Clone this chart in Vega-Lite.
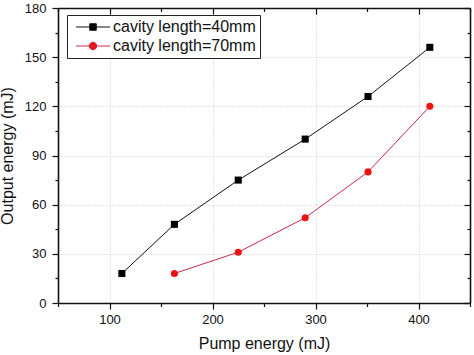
{
  "$schema": "https://vega.github.io/schema/vega-lite/v6.json",
  "width": 412,
  "height": 295,
  "autosize": {"type": "none"},
  "padding": {"left": 58, "top": 8, "right": 4, "bottom": 52},
  "background": "white",
  "config": {
    "font": "Liberation Sans",
    "view": {"stroke": null},
    "axis": {
      "labelFont": "Liberation Sans",
      "titleFont": "Liberation Sans",
      "labelColor": "#111",
      "titleColor": "#111",
      "labelFontSize": 13,
      "titleFontSize": 16,
      "titleFontWeight": "normal",
      "domainColor": "#111",
      "domainWidth": 1.6,
      "tickColor": "#111",
      "tickWidth": 1.2
    }
  },
  "data": {
    "values": [
      {"pump": 112, "out": 18, "series": "cavity length=40mm"},
      {"pump": 163, "out": 48, "series": "cavity length=40mm"},
      {"pump": 225, "out": 75, "series": "cavity length=40mm"},
      {"pump": 290, "out": 100, "series": "cavity length=40mm"},
      {"pump": 351, "out": 126, "series": "cavity length=40mm"},
      {"pump": 411, "out": 156, "series": "cavity length=40mm"},
      {"pump": 163, "out": 18, "series": "cavity length=70mm"},
      {"pump": 225, "out": 31, "series": "cavity length=70mm"},
      {"pump": 290, "out": 52, "series": "cavity length=70mm"},
      {"pump": 351, "out": 80, "series": "cavity length=70mm"},
      {"pump": 411, "out": 120, "series": "cavity length=70mm"}
    ]
  },
  "layer": [
    {
      "mark": {"type": "line", "strokeWidth": 1},
      "encoding": {
        "x": {
          "field": "pump", "type": "quantitative",
          "scale": {"domain": [50, 450], "nice": false, "zero": false},
          "axis": {
            "orient": "bottom",
            "title": "Pump energy (mJ)",
            "values": [50, 100, 150, 200, 250, 300, 350, 400, 450],
            "labelExpr": "datum.value % 100 === 0 ? datum.label : ''",
            "tickSize": {"condition": {"test": "datum.value % 100 === 0", "value": 6}, "value": 3.5},
            "labelPadding": 4,
            "titlePadding": 9,
            "grid": true,
            "gridColor": "#cccccc",
            "gridDash": [1, 2],
            "gridWidth": 1,
            "gridOpacity": {"condition": {"test": "datum.value % 100 === 0", "value": 1}, "value": 0}
          }
        },
        "y": {
          "field": "out", "type": "quantitative",
          "scale": {"domain": [0, 180], "nice": false},
          "axis": {
            "orient": "left",
            "title": "Output energy (mJ)",
            "values": [0, 15, 30, 45, 60, 75, 90, 105, 120, 135, 150, 165, 180],
            "labelExpr": "datum.value % 30 === 0 ? datum.label : ''",
            "tickSize": {"condition": {"test": "datum.value % 30 === 0", "value": 6}, "value": 3},
            "labelPadding": 6,
            "titlePadding": 9,
            "grid": true,
            "gridColor": "#cccccc",
            "gridDash": [1, 2],
            "gridWidth": 1,
            "gridOpacity": {"condition": {"test": "datum.value % 30 === 0", "value": 1}, "value": 0}
          }
        },
        "stroke": {
          "field": "series", "type": "nominal",
          "scale": {"domain": ["cavity length=40mm", "cavity length=70mm"], "range": ["#111111", "#c8284a"]},
          "legend": {
            "title": null,
            "orient": "none",
            "legendX": 9,
            "legendY": 7,
            "padding": 4,
            "strokeColor": "#222",
            "fillColor": "white",
            "labelFont": "Liberation Sans",
            "labelFontSize": 16,
            "labelColor": "#111",
            "labelLimit": 300,
            "symbolSize": 100,
            "symbolOffset": 14,
            "labelOffset": 12,
            "rowPadding": 3,
            "encode": {
              "symbols": {
                "update": {
                  "shape": {"signal": "datum.value === 'cavity length=40mm' ? 'M-3.4,0H3.4M-0.65,-0.65H0.65V0.65H-0.65Z' : 'M-3.4,0H3.4M0.75,0A0.75,0.75,0,1,1,-0.75,0A0.75,0.75,0,1,1,0.75,0Z'"},
                  "stroke": {"signal": "datum.value === 'cavity length=40mm' ? '#111111' : '#c8284a'"},
                  "fill": {"signal": "datum.value === 'cavity length=40mm' ? '#000000' : '#ee1111'"},
                  "strokeWidth": {"value": 1},
                  "opacity": {"value": 1}
                }
              }
            }
          }
        }
      }
    },
    {
      "transform": [{"filter": "datum.series === 'cavity length=40mm'"}],
      "mark": {"type": "point", "shape": "square", "filled": true, "opacity": 1, "size": 50, "color": "#000000"},
      "encoding": {
        "x": {
          "field": "pump", "type": "quantitative",
          "scale": {"domain": [50, 450], "nice": false, "zero": false},
          "axis": {
            "orient": "top", "title": null, "labels": false, "grid": false,
            "values": [50, 100, 150, 200, 250, 300, 350, 400, 450],
            "tickSize": {"condition": {"test": "datum.value % 100 === 0", "value": -6}, "value": -3.5}
          }
        },
        "y": {
          "field": "out", "type": "quantitative",
          "scale": {"domain": [0, 180], "nice": false},
          "axis": {
            "orient": "right", "title": null, "labels": false, "grid": false,
            "values": [0, 15, 30, 45, 60, 75, 90, 105, 120, 135, 150, 165, 180],
            "tickSize": {"condition": {"test": "datum.value % 30 === 0", "value": -6}, "value": -3}
          }
        }
      }
    },
    {
      "transform": [{"filter": "datum.series === 'cavity length=70mm'"}],
      "mark": {"type": "point", "shape": "circle", "filled": true, "opacity": 1, "size": 50, "color": "#ee1111"},
      "encoding": {
        "x": {"field": "pump", "type": "quantitative", "axis": null},
        "y": {"field": "out", "type": "quantitative", "axis": null}
      }
    }
  ],
  "resolve": {"axis": {"x": "independent", "y": "independent"}}
}
